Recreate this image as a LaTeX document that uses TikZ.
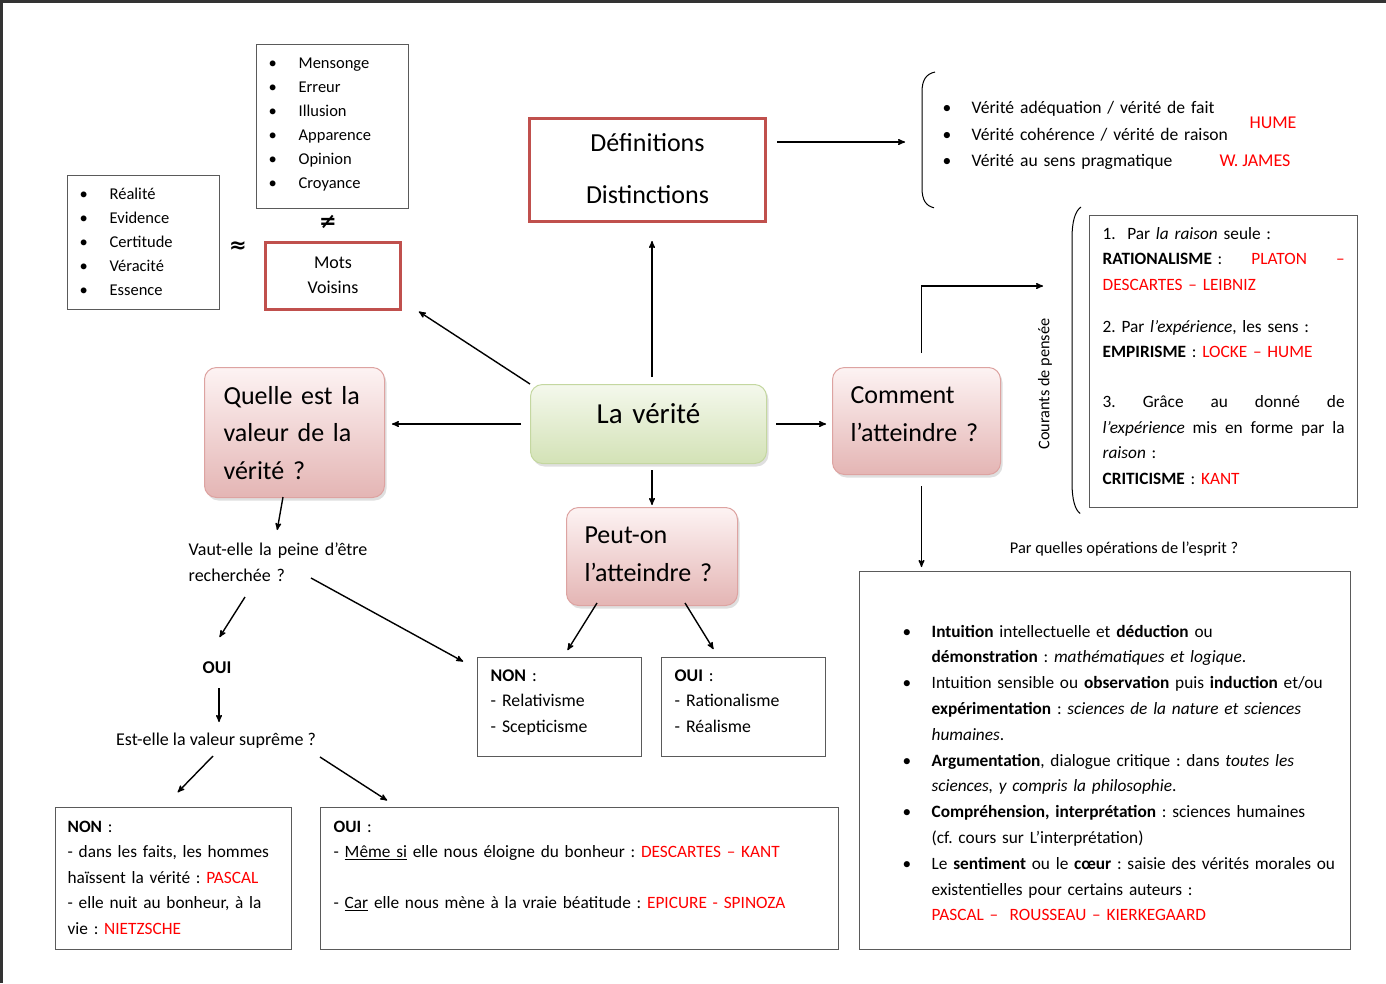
\documentclass[tikz,border=0pt]{standalone}
\usepackage{fontspec}
\setmainfont{Carlito}
\newfontfamily\symboles{DejaVu Sans}
\usepackage{tikz}
\usetikzlibrary{positioning,arrows,shadows}

\definecolor{gristrait}{HTML}{5A5A5A}
\definecolor{rougecadre}{HTML}{C0504D}
\definecolor{rouge}{HTML}{FF0000}
\definecolor{rosehaut}{HTML}{FDF3F3}
\definecolor{rosebas}{HTML}{E4B5B4}
\definecolor{rosetrait}{HTML}{DDA3A1}
\definecolor{verthaut}{HTML}{F4F8EC}
\definecolor{vertbas}{HTML}{D3E2B6}
\definecolor{verttrait}{HTML}{C4D7A0}
\definecolor{bord}{HTML}{333333}

\newcommand{\puce}[1]{\makebox[#1][l]{\textbullet}}
\frenchspacing

\begin{document}
\begin{tikzpicture}[x=1pt,y=-1pt,->,>=stealth',shorten >=1pt,line width=1.4pt]
  \tikzstyle{boite}=[draw=gristrait,line width=1.3pt,anchor=north west,align=left,
                     inner ysep=0pt,font=\fontsize{17.3}{25.5}\selectfont]
  \tikzstyle{liste}=[boite,inner xsep=12pt,text width=128pt,
                     font=\fontsize{16.5}{24}\selectfont]
  \tikzstyle{boiterouge}=[boite,draw=rougecadre,line width=3pt,align=center]
  \tikzstyle{bulle}=[boite,draw=rosetrait,line width=1pt,rounded corners=12pt,
                     top color=rosehaut,bottom color=rosebas,
                     drop shadow={shadow xshift=2pt,shadow yshift=-3pt,opacity=.25},
                     inner xsep=18pt,font=\fontsize{26}{37.5}\selectfont]
  \tikzstyle{texte}=[font=\fontsize{18}{25.5}\selectfont,inner sep=0pt]

  \useasboundingbox (0,0) rectangle (1386,983);
  \fill[bord] (0,0) rectangle (1386,3);
  \fill[bord] (0,0) rectangle (3,983);

  % le centre
  \node[bulle,draw=verttrait,top color=verthaut,bottom color=vertbas,align=center,
        inner xsep=8pt,text width=220pt,text height=38.5pt,text depth=40.5pt,
        font=\fontsize{29}{35}\selectfont] (laverite) at (530,384) {La vérité};

  % definitions
  \node[boiterouge,inner xsep=8pt,text width=220pt,text height=32.5pt,text depth=70.5pt,
        font=\fontsize{26}{52.5}\selectfont] (defs) at (528,117) {Définitions\\Distinctions};
  \coordinate (accolade1) at (906,142);
  \node[texte,anchor=north west,align=left,text width=310pt,text height=23pt,
        font=\fontsize{17.6}{26.5}\selectfont] (typesverite) at (942,90)
        {\puce{29pt}Vérité adéquation / vérité de fait\\
         \puce{29pt}Vérité cohérence / vérité de raison\\
         \puce{29pt}Vérité au sens pragmatique};
  \node[texte,anchor=base,text=rouge] (hume) at (1273,128.5) {HUME};
  \node[texte,anchor=base,text=rouge] (james) at (1255,166) {W. JAMES};

  % mots voisins
  \node[boiterouge,inner xsep=5pt,text width=125pt,text height=25.5pt,text depth=41.5pt,
        font=\fontsize{18}{25}\selectfont] (motsvoisins) at (264,241) {Mots\\Voisins};
  \node[liste,text height=23.5pt,text depth=140pt] (contraires) at (256,44)
        {\puce{30pt}Mensonge\\ \puce{30pt}Erreur\\ \puce{30pt}Illusion\\
         \puce{30pt}Apparence\\ \puce{30pt}Opinion\\ \puce{30pt}Croyance};
  \node[liste,text height=23.5pt,text depth=110pt] (synonymes) at (67,175)
        {\puce{30pt}Réalité\\ \puce{30pt}Evidence\\ \puce{30pt}Certitude\\
         \puce{30pt}Véracité\\ \puce{30pt}Essence};
  \node[texte,font=\symboles\bfseries\fontsize{21}{24}\selectfont] (different) at (328,222) {≠};
  \node[texte,font=\symboles\bfseries\fontsize{21}{24}\selectfont] (proche) at (238,247) {≈};

  % les trois questions
  \node[bulle,inner xsep=19pt,text width=142pt,text height=36.5pt,text depth=93.5pt]
        (quelle) at (204,367) {Quelle est la\\valeur de la\\vérité~?};
  \node[bulle,text width=132pt,text height=36pt,text depth=71pt]
        (comment) at (832,367) {Comment\\l’atteindre~?};
  \node[bulle,text width=135pt,text height=36pt,text depth=62pt]
        (peut) at (566,507) {Peut-on\\l’atteindre~?};

  % valeur de la verite
  \node[texte,anchor=north west,align=left,text width=200pt,text height=25pt,text depth=29pt]
        (vaut) at (188,530) {Vaut-elle la peine d’être\\recherchée~?};
  \node[texte,font=\bfseries\fontsize{18}{22}\selectfont] (oui) at (217,668) {OUI};
  \node[texte] (est) at (216,741) {Est-elle la valeur suprême~?};
  \node[boite,inner xsep=12pt,text width=212pt,text height=24.5pt,text depth=117.5pt]
        (nonbas) at (55,807)
        {\textbf{NON} :\\- dans les faits, les hommes\\
         haïssent la vérité : \textcolor{rouge}{PASCAL}\\
         - elle nuit au bonheur, à la\\vie : \textcolor{rouge}{NIETZSCHE}};
  \node[boite,inner xsep=13pt,text width=492pt,text height=24.5pt,text depth=117.5pt]
        (ouibas) at (320,807)
        {\textbf{OUI} :\\
         - \underline{Même si} elle nous éloigne du bonheur : \textcolor{rouge}{DESCARTES – KANT}\\[25.5pt]
         - \underline{Car} elle nous mène à la vraie béatitude : \textcolor{rouge}{EPICURE - SPINOZA}};

  % peut-on l'atteindre
  \node[boite,inner xsep=13pt,text width=138pt,text height=23.5pt,text depth=75.5pt,
        font=\fontsize{17.8}{25.5}\selectfont] (nonmid) at (477,657)
        {\textbf{NON} :\\- Relativisme\\- Scepticisme};
  \node[boite,inner xsep=13pt,text width=138pt,text height=23.5pt,text depth=75.5pt,
        font=\fontsize{17.8}{25.5}\selectfont] (ouimid) at (661,657)
        {\textbf{OUI} :\\- Rationalisme\\- Réalisme};

  % comment l'atteindre
  \coordinate (accolade2) at (1044,286);
  \node[texte,rotate=90,font=\fontsize{16.3}{20}\selectfont] (courantstitre) at (1045,384)
        {Courants de pensée};
  \node[boite,inner xsep=13pt,text width=242pt,text height=23.5pt,text depth=268.5pt]
        (courants) at (1089,215)
        {1.\ \ Par \textit{la raison} seule :\\
         \textbf{RATIONALISME} :\hfill\textcolor{rouge}{PLATON}\hfill\textcolor{rouge}{–}\\
         \textcolor{rouge}{DESCARTES – LEIBNIZ}\\[16.5pt]
         2. Par \textit{l’expérience}, les sens :\\
         \textbf{EMPIRISME} : \textcolor{rouge}{LOCKE – HUME}\\[24.5pt]
         3.\hfill Grâce\hfill au\hfill donné\hfill de\\
         \textit{l’expérience}\hfill mis\hfill en\hfill forme\hfill par\hfill la\\
         \textit{raison} :\\
         \textbf{CRITICISME} : \textcolor{rouge}{KANT}};
  \node[texte,font=\fontsize{16.4}{20}\selectfont] (operations) at (1124,549)
        {Par quelles opérations de l’esprit~?};
  \node[boite,inner xsep=2pt,text width=487pt,text height=65.5pt,text depth=312.5pt,
        font=\fontsize{17.3}{25.8}\selectfont] (ops) at (859,571)
        {\hspace*{41pt}\puce{29pt}\textbf{Intuition} intellectuelle et \textbf{déduction} ou\\
         \hspace*{70pt}\textbf{démonstration} : \textit{mathématiques et logique}.\\
         \hspace*{41pt}\puce{29pt}Intuition sensible ou \textbf{observation} puis \textbf{induction} et/ou\\
         \hspace*{70pt}\textbf{expérimentation} : \textit{sciences de la nature et sciences}\\
         \hspace*{70pt}\textit{humaines}.\\
         \hspace*{41pt}\puce{29pt}\textbf{Argumentation}, dialogue critique : dans \textit{toutes les}\\
         \hspace*{70pt}\textit{sciences, y compris la philosophie}.\\
         \hspace*{41pt}\puce{29pt}\textbf{Compréhension, interprétation} : sciences humaines\\
         \hspace*{70pt}(cf. cours sur L’interprétation)\\
         \hspace*{41pt}\puce{29pt}\mbox{Le \textbf{sentiment} ou le \textbf{cœur} : saisie des vérités morales ou}\\
         \hspace*{70pt}existentielles pour certains auteurs :\\
         \hspace*{70pt}\textcolor{rouge}{PASCAL –\ \ ROUSSEAU – KIERKEGAARD}};

  % accolades
  \draw[-,line width=1pt] (935,72) .. controls (926,74) and (922,80) .. (922,92)
        -- (922,188) .. controls (922,200) and (926,206) .. (935,208);
  \draw[-,line width=1pt] (1081,207) .. controls (1075,211) and (1072,222) .. (1072,238)
        -- (1072,483) .. controls (1072,499) and (1075,510) .. (1081,514);

  % liens
  \draw[shorten <=7pt,shorten >=18pt] ([xshift=3.5pt]laverite.north) -- ([xshift=3.5pt]laverite.north |- defs.south);
  \draw (laverite.north west) -- ([xshift=16pt]motsvoisins.south east);
  \draw[shorten <=9pt,shorten >=7pt] (laverite.west) -- (laverite.west -| quelle.east);
  \draw[shorten <=9pt,shorten >=6pt] (laverite.east) -- (laverite.east -| comment.west);
  \draw[shorten <=6pt,shorten >=2pt] ([xshift=3.5pt]laverite.south) -- ([xshift=3.5pt]laverite.south |- peut.north);
  \draw[shorten <=10pt] (defs.east |- accolade1) -- (accolade1);
  \draw[shorten <=14pt] ([xshift=5pt]comment.north) |- (accolade2);
  \draw[shorten <=11pt,shorten >=4pt] ([xshift=5pt]comment.south) -- ([xshift=5pt]comment.south |- ops.north);

  \draw ([shift={(79,130)}]quelle.north west) -- ([shift={(89,1)}]vaut.north west);
  \draw ([shift={(57,67)}]vaut.north west) -- ([shift={(2,-30)}]oui.center);
  \draw ([shift={(123,48)}]vaut.north west) -- ([shift={(-13,5)}]nonmid.north west);
  \draw ([shift={(2,20)}]oui.center) -- ([shift={(3,-18)}]est.center);
  \draw ([shift={(-3,15)}]est.center) -- ([shift={(122,-14)}]nonbas.north west);
  \draw ([shift={(104,16)}]est.center) -- ([shift={(68,-6)}]ouibas.north west);
  \draw ([shift={(31,96)}]peut.north west) -- ([shift={(90,-6)}]nonmid.north west);
  \draw ([shift={(119,96)}]peut.north west) -- ([shift={(53,-7)}]ouimid.north west);
\end{tikzpicture}
\end{document}
